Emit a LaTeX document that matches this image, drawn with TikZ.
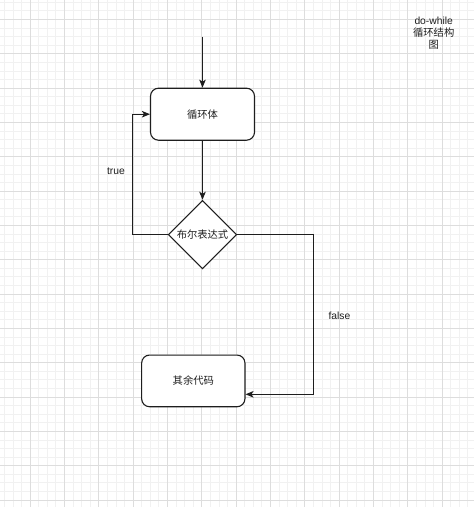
\documentclass[tikz,border=0pt]{standalone}
\usepackage{fontspec}
\setmainfont{Liberation Sans}
\newfontfamily\cjk{Noto Sans CJK SC}
\usetikzlibrary{shapes.geometric,arrows.meta}
\definecolor{ink}{HTML}{1E1E1E}
\definecolor{minorgrid}{HTML}{F1F1F1}
\definecolor{majorgrid}{HTML}{DDDDDD}
\tikzset{
  stroke/.style={draw=ink, line width=1.1pt},
  arr/.style={stroke, -{Stealth[length=8pt,width=6.5pt,inset=2pt]}},
  line/.style={stroke},
  boxnode/.style={stroke, fill=white, rectangle, rounded corners=8pt, inner sep=0pt, text=ink, font=\fontsize{10.3}{12}\selectfont\cjk},
  dianode/.style={stroke, fill=white, diamond, inner sep=0pt, minimum width=68.4pt, minimum height=68.6pt, text=ink, font=\fontsize{10.3}{12}\selectfont\cjk},
  lbl/.style={text=ink, inner sep=0pt, font=\fontsize{10.3}{12}\selectfont},
  minorline/.style={draw=minorgrid, line width=0.6pt},
  majorline/.style={draw=majorgrid, line width=0.8pt}
}
\begin{document}
\begin{tikzpicture}[x=1pt,y=-1pt]
\useasboundingbox (0,0) rectangle (474,507);
\fill[white] (0,0) rectangle (474,507);
% grid
\begin{scope}
\clip (0,0) rectangle (474,507);
\foreach \i in {0,...,56} {
  \draw[minorline] ({-4.33+8.583*\i},0) -- ({-4.33+8.583*\i},507);
}
\foreach \i in {0,...,61} {
  \draw[minorline] (0,{-15.03+8.583*\i}) -- (474,{-15.03+8.583*\i});
}
\foreach \i in {0,...,14} {
  \draw[majorline] ({-4.33+34.33*\i},0) -- ({-4.33+34.33*\i},507);
}
\foreach \i in {0,...,15} {
  \draw[majorline] (0,{-15.03+34.33*\i}) -- (474,{-15.03+34.33*\i});
}
\end{scope}
% nodes
\coordinate (start) at (202.5,36.7);
\node[boxnode, minimum width=104pt, minimum height=52pt] (body) at (202.5,114.2) {循环体};
\node[dianode] (cond) at (202.5,234.6) {布尔表达式};
\node[boxnode, minimum width=103.3pt, minimum height=51.7pt] (rest) at (193.3,380.9) {其余代码};
\coordinate (lk) at (132.7,114.2);
\coordinate (rk) at (313.3,394.3);
% connectors
\draw[arr] (start) -- (body.north);
\draw[arr] (body.south) -- (cond.north);
\draw[arr] (cond.west) -| (lk) -- (body.west);
\draw[arr] (cond.east) -| (rk) -- (rk -| rest.east);
% labels
\node[lbl] (ltrue) at (116,171) {true};
\node[lbl] (lfalse) at (339.5,316) {false};
\node[lbl, align=center] (title) at (433.7,32.8) {do-while\\{\cjk 循环结构}\\{\cjk 图}};
\end{tikzpicture}
\end{document}
